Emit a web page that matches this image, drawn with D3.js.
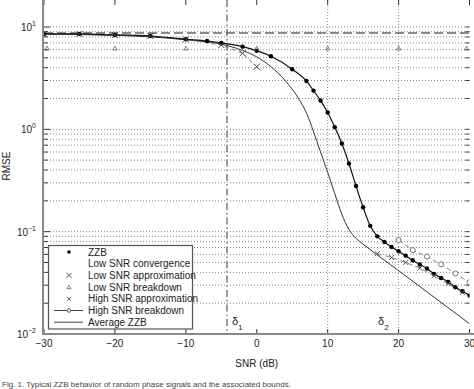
<!DOCTYPE html>
<html>
<head>
<meta charset="utf-8">
<script src="https://cdn.jsdelivr.net/npm/d3@7/dist/d3.min.js"></script>
<style>
  body { margin: 0; background: #fff; }
  svg { display: block; font-family: "Liberation Sans", Arial, sans-serif; }
</style>
</head>
<body>
<div id="chart"></div>
<script>
// ZZB curve (dots)
var zzbSnr  = [-30, -25, -20, -15, -10, -7, -5, -2, 0, 2, 5, 7, 8, 9, 10, 11, 12, 13, 14, 15, 16, 17, 18, 19, 20,
               21, 22, 23, 24, 25, 26, 27, 28, 29, 30];
var zzbRmse = [8.55, 8.55, 8.36, 8.17, 7.59, 7.30, 6.98, 6.43, 5.87, 5.18, 3.87, 2.97, 2.39, 1.91, 1.46, 1.05, 0.727,
               0.464, 0.279, 0.173, 0.114, 0.090, 0.0794, 0.0710, 0.0643, 0.0583, 0.0525, 0.0477, 0.0436, 0.0387,
               0.0353, 0.0323, 0.0286, 0.0262, 0.0238];

// low SNR convergence level
var convSnr  = [-30, 30];
var convRmse = [8.75, 8.75];

// low SNR approximation
var lowApproxSnr  = [-30, -25, -20, -15, -10, -5, -2, 0];
var lowApproxRmse = [8.55, 8.55, 8.36, 8.17, 7.59, 6.67, 5.53, 4.09];

// low SNR breakdown
var lowBreakSnr  = [-30, -20, -10, 0, 10, 20, 30];
var lowBreakRmse = [6.2, 6.2, 6.2, 6.2, 6.2, 6.2, 6.2];

// high SNR approximation
var highApproxSnr  = [17, 19, 21, 23, 25, 27, 29];
var highApproxRmse = [0.061, 0.056, 0.050, 0.044, 0.037, 0.031, 0.0255];

// high SNR breakdown
var highBreakSnr  = [20, 22, 24, 26, 28, 30];
var highBreakRmse = [0.083, 0.066, 0.057, 0.048, 0.039, 0.032];

// average ZZB
var avgSnr  = [-30, -20, -10, -5, -2, 0, 2, 4, 6, 7, 8, 9, 10, 11, 12, 13, 14, 15, 20, 25, 30];
var avgRmse = [8.5, 8.3, 7.5, 6.8, 5.9, 5.1, 4.1, 3.0, 1.95, 1.45, 0.95, 0.6, 0.38, 0.235, 0.148, 0.105, 0.086,
               0.0755, 0.0416, 0.0229, 0.0126];

var xTicks = [-30, -20, -10, 0, 10, 20, 30];
var xGrid = [10, 20];
var yDecades = [1, 0, -1, -2];
var deltaMarks = [{name: "1", snr: -4.2}, {name: "2", snr: 16.4}];
var legendNames = ["ZZB", "Low SNR convergence", "Low SNR approximation", "Low SNR breakdown",
                   "High SNR approximation", "High SNR breakdown", "Average ZZB"];

var W = 474, H = 389;
var left = 44, right = 469.5, bottom = 334;

var svg = d3.select("#chart").append("svg")
  .attr("width", W).attr("height", H);

var x = d3.scaleLinear().domain([-30, 30]).range([left, right]);
var y = d3.scaleLog().domain([0.01, 10]).range([bottom, 27]);
var yTop = y.invert(0);

function zip(a, b) { return a.map(function(d, i) { return {x: d, y: b[i]}; }); }

svg.append("clipPath").attr("id", "plot")
  .append("rect").attr("x", left).attr("y", 0).attr("width", right - left).attr("height", bottom);

// grid values: 1..9 per decade
var minor = [];
for (var e = -2; e <= 1; e++) {
  for (var m = 1; m <= 9; m++) {
    var v = m * Math.pow(10, e);
    if (v <= yTop) minor.push(v);
  }
}

var grid = svg.append("g").attr("clip-path", "url(#plot)");
grid.selectAll("line.hg").data(minor).enter().append("line")
  .attr("x1", left + 6).attr("x2", right - 4)
  .attr("y1", function(d) { return y(d); }).attr("y2", function(d) { return y(d); })
  .attr("stroke", "#888").attr("stroke-width", 1).attr("stroke-dasharray", "1,2");
grid.selectAll("line.vg").data(xGrid).enter().append("line")
  .attr("x1", function(d) { return x(d); }).attr("x2", function(d) { return x(d); })
  .attr("y1", 0).attr("y2", bottom)
  .attr("stroke", "#888").attr("stroke-width", 1).attr("stroke-dasharray", "1,2");

// ticks (inward)
var ticks = svg.append("g").attr("stroke", "#333");
ticks.selectAll("line.yt").data(minor).enter().append("line")
  .attr("x1", left).attr("x2", function(d) { return left + (Math.abs(Math.log10(d) % 1) < 1e-9 ? 6 : 4); })
  .attr("y1", function(d) { return y(d); }).attr("y2", function(d) { return y(d); });
ticks.selectAll("line.yr").data(minor).enter().append("line")
  .attr("x1", right - 4).attr("x2", right)
  .attr("y1", function(d) { return y(d); }).attr("y2", function(d) { return y(d); });
ticks.selectAll("line.xb").data(xTicks).enter().append("line")
  .attr("x1", function(d) { return x(d); }).attr("x2", function(d) { return x(d); })
  .attr("y1", bottom).attr("y2", bottom - 5);
ticks.selectAll("line.xt").data(xTicks).enter().append("line")
  .attr("x1", function(d) { return x(d); }).attr("x2", function(d) { return x(d); })
  .attr("y1", 0).attr("y2", 5);

// delta1 dash-dot line
svg.append("line")
  .attr("x1", x(deltaMarks[0].snr)).attr("x2", x(deltaMarks[0].snr))
  .attr("y1", 0).attr("y2", bottom)
  .attr("stroke", "#666").attr("stroke-width", 1.3).attr("stroke-dasharray", "7,3,1.5,3");

var plot = svg.append("g").attr("clip-path", "url(#plot)");
var line = d3.line().x(function(d) { return x(d.x); }).y(function(d) { return y(d.y); });
var smooth = d3.line().x(function(d) { return x(d.x); }).y(function(d) { return y(d.y); }).curve(d3.curveMonotoneX);

// low SNR convergence
plot.append("path").datum(zip(convSnr, convRmse)).attr("d", line)
  .attr("fill", "none").attr("stroke", "#666").attr("stroke-width", 1.6).attr("stroke-dasharray", "9,4");

// average ZZB
plot.append("path").datum(zip(avgSnr, avgRmse)).attr("d", smooth)
  .attr("fill", "none").attr("stroke", "#333").attr("stroke-width", 1);

// high SNR breakdown
plot.append("path").datum(zip(highBreakSnr, highBreakRmse)).attr("d", line)
  .attr("fill", "none").attr("stroke", "#888").attr("stroke-width", 1).attr("stroke-dasharray", "5,3");
plot.selectAll("circle.hb").data(zip(highBreakSnr, highBreakRmse)).enter().append("circle")
  .attr("cx", function(d) { return x(d.x); }).attr("cy", function(d) { return y(d.y); }).attr("r", 2.5)
  .attr("fill", "#fff").attr("stroke", "#777");

// high SNR approximation
plot.append("path").datum(zip(highApproxSnr, highApproxRmse)).attr("d", line)
  .attr("fill", "none").attr("stroke", "#888").attr("stroke-width", 1).attr("stroke-dasharray", "5,3");

// low SNR approximation
plot.append("path").datum(zip(lowApproxSnr, lowApproxRmse)).attr("d", line)
  .attr("fill", "none").attr("stroke", "#777").attr("stroke-width", 1).attr("stroke-dasharray", "4,3");

// ZZB
plot.append("path").datum(zip(zzbSnr, zzbRmse)).attr("d", smooth)
  .attr("fill", "none").attr("stroke", "#111").attr("stroke-width", 1.2);
plot.selectAll("circle.zzb").data(zip(zzbSnr, zzbRmse)).enter().append("circle")
  .attr("cx", function(d) { return x(d.x); }).attr("cy", function(d) { return y(d.y); }).attr("r", 2.2)
  .attr("fill", "#000");

function cross(g, cx, cy, s, col) {
  g.append("path").attr("d", "M" + (cx - s) + "," + (cy - s) + "L" + (cx + s) + "," + (cy + s) +
      "M" + (cx - s) + "," + (cy + s) + "L" + (cx + s) + "," + (cy - s))
    .attr("stroke", col).attr("stroke-width", 1).attr("fill", "none");
}
function tri(g, cx, cy, s, col) {
  g.append("path").attr("d", "M" + cx + "," + (cy - s) + "L" + (cx + s) + "," + (cy + s * 0.8) + "L" + (cx - s) + "," + (cy + s * 0.8) + "Z")
    .attr("stroke", col).attr("stroke-width", 0.8).attr("fill", "none");
}

zip(lowApproxSnr, lowApproxRmse).forEach(function(d) { cross(plot, x(d.x), y(d.y), 3, "#444"); });
zip(highApproxSnr, highApproxRmse).forEach(function(d) { cross(plot, x(d.x), y(d.y), 2.5, "#555"); });
zip(lowBreakSnr, lowBreakRmse).forEach(function(d) { tri(plot, Math.min(Math.max(x(d.x), left + 3), right - 3), y(d.y), 2.2, "#666"); });

// spines
svg.append("line").attr("x1", left - 1).attr("x2", left - 1).attr("y1", 0).attr("y2", bottom + 1)
  .attr("stroke", "#888").attr("stroke-width", 2);
svg.append("line").attr("x1", left - 2).attr("x2", W).attr("y1", bottom).attr("y2", bottom)
  .attr("stroke", "#888").attr("stroke-width", 2);

// x tick labels
svg.selectAll("text.xl").data(xTicks).enter().append("text")
  .attr("x", function(d) { return x(d); }).attr("y", 347)
  .attr("text-anchor", "middle").attr("font-size", 10).attr("fill", "#222")
  .text(function(d) { return d < 0 ? "\u2212" + Math.abs(d) : d; });

// y tick labels 10^n
yDecades.forEach(function(p) {
  var t = svg.append("text").attr("x", 36).attr("y", y(Math.pow(10, p)) + 4)
    .attr("text-anchor", "end").attr("font-size", 10).attr("fill", "#222");
  t.append("tspan").text("10");
  t.append("tspan").attr("dy", -5).attr("font-size", 7).text(p < 0 ? "\u2212" + Math.abs(p) : p);
});

// axis titles
svg.append("text").attr("x", x(0)).attr("y", 367).attr("text-anchor", "middle")
  .attr("font-size", 10).attr("fill", "#222").text("SNR (dB)");
svg.append("text").attr("transform", "translate(10,166) rotate(-90)").attr("text-anchor", "middle")
  .attr("font-size", 10).attr("fill", "#222").text("RMSE");

// delta labels
deltaMarks.forEach(function(d) {
  var t = svg.append("text").attr("x", x(d.snr) + 5).attr("y", 325).attr("font-size", 11).attr("fill", "#222");
  t.append("tspan").text("\u03b4");
  t.append("tspan").attr("dy", 5).attr("font-size", 8).text(d.name);
});

// legend
var lg = svg.append("g");
lg.append("rect").attr("x", 48.5).attr("y", 245.5).attr("width", 144).attr("height", 83.5)
  .attr("fill", "#fff").attr("stroke", "#555").attr("stroke-width", 1.2);
legendNames.forEach(function(name, i) {
  var ly = 252 + i * 11.7;
  lg.append("text").attr("x", 88).attr("y", ly + 3.5).attr("font-size", 10).attr("fill", "#222").text(name);
  if (i == 0) lg.append("circle").attr("cx", 69).attr("cy", ly).attr("r", 1.8).attr("fill", "#000");
  if (i == 2) cross(lg, 69, ly, 2.5, "#555");
  if (i == 3) tri(lg, 69, ly, 2, "#666");
  if (i == 4) cross(lg, 69, ly, 2, "#555");
  if (i == 5) {
    lg.append("line").attr("x1", 54).attr("x2", 83).attr("y1", ly).attr("y2", ly).attr("stroke", "#444");
    lg.append("circle").attr("cx", 69).attr("cy", ly).attr("r", 1.8).attr("fill", "#fff").attr("stroke", "#555");
  }
  if (i == 6) lg.append("line").attr("x1", 54).attr("x2", 83).attr("y1", ly).attr("y2", ly).attr("stroke", "#444");
});

// caption line at the bottom edge
svg.append("text").attr("x", 2).attr("y", 387).attr("font-size", 8).attr("fill", "#444")
  .text("Fig. 1.   Typical ZZB behavior of random phase signals and the associated bounds.");
</script>
</body>
</html>
